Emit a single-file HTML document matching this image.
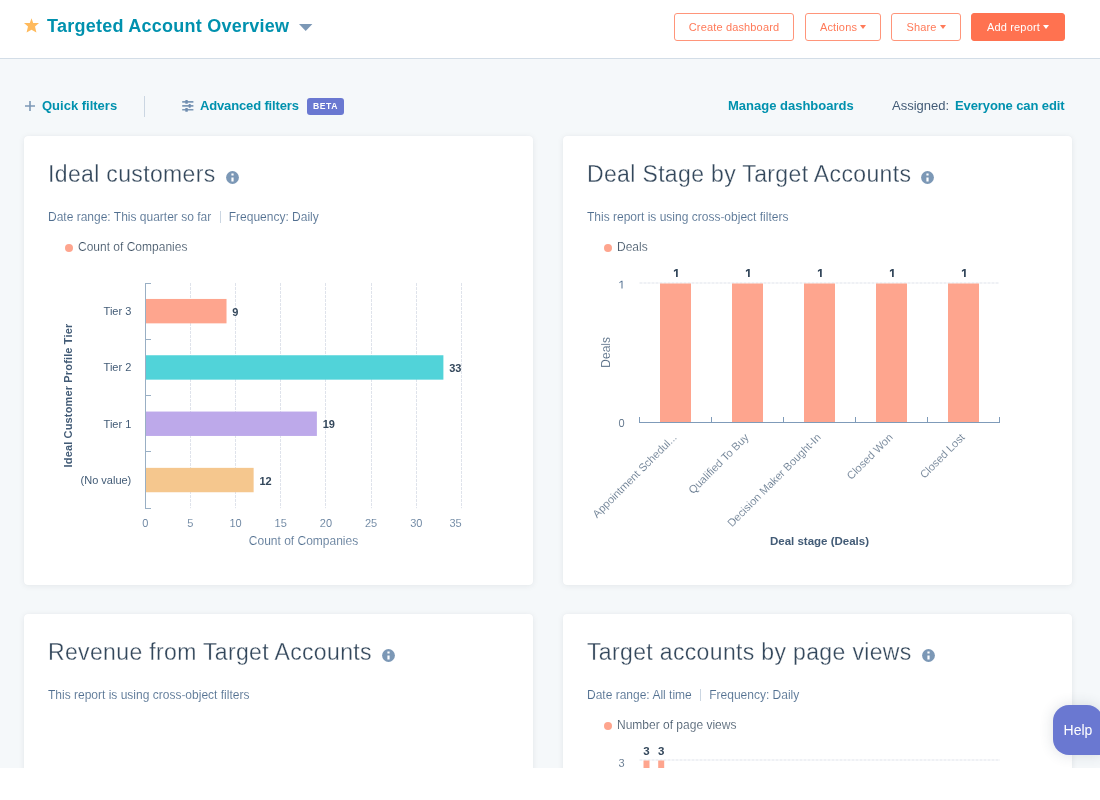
<!DOCTYPE html>
<html><head><meta charset="utf-8">
<style>
*{box-sizing:border-box}
html,body{margin:0;padding:0;width:1100px;height:800px;background:#fff;overflow:hidden;font-family:"Liberation Sans",sans-serif}
#page{will-change:transform;position:absolute;left:0;top:0;width:1100px;height:768px;background:#f5f8fa}
#hdr{position:absolute;left:0;top:0;width:1100px;height:59px;background:#fff;border-bottom:1px solid #d3dde7}
.abs{position:absolute;white-space:nowrap}
.title{left:47px;top:15px;font-size:18px;font-weight:700;color:#0091ae;letter-spacing:0.25px;line-height:22px}
.btn{position:absolute;top:13px;height:28px;border:1px solid #ff957a;border-radius:3px;color:#ff7a59;font-size:11px;line-height:26px;text-align:center;background:#fff;letter-spacing:0.15px}
.btn.fill{background:#ff7250;color:#fff;border-color:#ff7250}
.caret{display:inline-block;width:0;height:0;border-left:3.5px solid transparent;border-right:3.5px solid transparent;border-top:4px solid currentColor;vertical-align:middle;margin-left:3px;margin-top:-2px}
.flt{font-size:13px;font-weight:700;color:#0091ae;line-height:16px}
.card{position:absolute;background:#fff;border-radius:4px;box-shadow:0 1px 6px rgba(30,40,50,0.075),0 0 1px rgba(30,40,50,0.06)}
.ct{position:absolute;left:24px;top:23px;font-size:23px;letter-spacing:0.35px;color:#33475b;-webkit-text-stroke:0.3px #fff;line-height:30px;white-space:nowrap}
.info{display:inline-block;width:13px;height:13px;vertical-align:-2px;margin-left:10px}
.sub{position:absolute;left:24px;top:73px;font-size:12px;color:#516f90;-webkit-text-stroke:0.1px #fff;line-height:16px;white-space:nowrap}
.sep{display:inline-block;width:1px;height:12px;background:#cbd6e2;margin:0 8px 0 8.5px;vertical-align:-2px}
.leg{position:absolute;left:41px;top:103px;font-size:12px;color:#33475b;-webkit-text-stroke:0.2px #fff;line-height:16px;white-space:nowrap}
.dot{display:inline-block;width:8px;height:8px;border-radius:50%;background:#fea58e;margin-right:5px;vertical-align:-1px}
svg text{font-family:"Liberation Sans",sans-serif}
#help{position:absolute;left:1053px;top:705px;width:50px;height:50px;background:#6a78d1;border-radius:16px 16px 0 16px;color:#fff;font-size:14px;line-height:50px;text-align:center;box-shadow:0 0 14px rgba(45,62,80,0.16)}
</style></head>
<body>
<div id="page">
  <div id="hdr">
    <svg class="abs" style="left:24px;top:18px" width="16" height="15" viewBox="0 0 16 15"><path d="M7.5 0.3 L9.2 5.1 L15 5.1 L11 8.6 L12.4 14.6 L7.5 11.8 L2.6 14.6 L4 8.6 L0 5.1 L5.8 5.1 Z" fill="#ffba5c"/></svg>
    <div class="abs title">Targeted Account Overview</div>
    <svg class="abs" style="left:299px;top:24px" width="14" height="8" viewBox="0 0 14 8"><path d="M0 0 L13.4 0 L6.7 7 Z" fill="#7c98b6"/></svg>
    <div class="btn" style="left:674px;width:120px">Create dashboard</div>
    <div class="btn" style="left:805px;width:76px">Actions<span class="caret"></span></div>
    <div class="btn" style="left:891px;width:70px">Share<span class="caret"></span></div>
    <div class="btn fill" style="left:971px;width:94px">Add report<span class="caret"></span></div>
  </div>

  <!-- filter bar -->
  <svg class="abs" style="left:25px;top:101px" width="10" height="10" viewBox="0 0 10 10"><path d="M5 0V10M0 5H10" stroke="#7c98b6" stroke-width="1.6"/></svg>
  <div class="abs flt" style="left:42px;top:98px">Quick filters</div>
  <div class="abs" style="left:144px;top:96px;width:1px;height:21px;background:#cbd6e2"></div>
  <svg class="abs" style="left:182px;top:100px" width="12" height="12" viewBox="0 0 12 12">
    <g stroke="#7c98b6" stroke-width="1.6"><path d="M0.2 1.9H11.4M0.2 5.9H11.4M0.2 9.8H11.4"/></g>
    <g fill="#6f8db0"><rect x="3.3" y="0.1" width="2.5" height="3.7" rx="0.6"/><rect x="6.6" y="4.1" width="2.2" height="3.6" rx="0.6"/><rect x="3.3" y="8" width="2.5" height="3.8" rx="0.6"/></g>
  </svg>
  <div class="abs flt" style="left:200px;top:98px;letter-spacing:-0.15px">Advanced filters</div>
  <div class="abs" style="left:307px;top:98px;width:37px;height:17px;background:#6a78d1;border-radius:3px;color:#fff;font-size:8.6px;font-weight:700;line-height:17px;text-align:center;letter-spacing:0.5px">BETA</div>
  <div class="abs flt" style="left:728px;top:98px">Manage dashboards</div>
  <div class="abs" style="left:892px;top:98px;font-size:13px;color:#425b76;line-height:16px">Assigned:</div>
  <div class="abs flt" style="left:955px;top:98px;letter-spacing:-0.1px">Everyone can edit</div>

  <!-- card 1 -->
  <div class="card" style="left:24px;top:136px;width:509px;height:449px">
    <div class="ct">Ideal customers<svg class="info" viewBox="0 0 13 13"><circle cx="6.5" cy="6.5" r="6.4" fill="#7c98b6"/><rect x="5.4" y="2.5" width="2.2" height="2" fill="#fff"/><rect x="5.4" y="6.5" width="2.2" height="4" fill="#fff"/></svg></div>
    <div class="sub">Date range: This quarter so far<span class="sep"></span>Frequency: Daily</div>
    <div class="leg"><span class="dot"></span>Count of Companies</div>
  </div>

  <!-- card 2 -->
  <div class="card" style="left:563px;top:136px;width:509px;height:449px">
    <div class="ct">Deal Stage by Target Accounts<svg class="info" viewBox="0 0 13 13"><circle cx="6.5" cy="6.5" r="6.4" fill="#7c98b6"/><rect x="5.4" y="2.5" width="2.2" height="2" fill="#fff"/><rect x="5.4" y="6.5" width="2.2" height="4" fill="#fff"/></svg></div>
    <div class="sub">This report is using cross-object filters</div>
    <div class="leg"><span class="dot"></span>Deals</div>
  </div>

  <!-- card 3 -->
  <div class="card" style="left:24px;top:614px;width:509px;height:200px">
    <div class="ct">Revenue from Target Accounts<svg class="info" viewBox="0 0 13 13"><circle cx="6.5" cy="6.5" r="6.4" fill="#7c98b6"/><rect x="5.4" y="2.5" width="2.2" height="2" fill="#fff"/><rect x="5.4" y="6.5" width="2.2" height="4" fill="#fff"/></svg></div>
    <div class="sub">This report is using cross-object filters</div>
  </div>

  <!-- card 4 -->
  <div class="card" style="left:563px;top:614px;width:509px;height:200px">
    <div class="ct">Target accounts by page views<svg class="info" viewBox="0 0 13 13"><circle cx="6.5" cy="6.5" r="6.4" fill="#7c98b6"/><rect x="5.4" y="2.5" width="2.2" height="2" fill="#fff"/><rect x="5.4" y="6.5" width="2.2" height="4" fill="#fff"/></svg></div>
    <div class="sub">Date range: All time<span class="sep"></span>Frequency: Daily</div>
    <div class="leg"><span class="dot"></span>Number of page views</div>
  </div>

  <!-- CHARTS -->
<svg class="abs" style="left:0;top:0" width="1100" height="768" viewBox="0 0 1100 768"><style>.t{stroke:#fff;stroke-width:0.15px}</style>
<line x1="190.5" y1="283" x2="190.5" y2="508.2" stroke="#dfe3eb" stroke-width="1" stroke-dasharray="3,1"/>
<line x1="235.5" y1="283" x2="235.5" y2="508.2" stroke="#dfe3eb" stroke-width="1" stroke-dasharray="3,1"/>
<line x1="280.5" y1="283" x2="280.5" y2="508.2" stroke="#dfe3eb" stroke-width="1" stroke-dasharray="3,1"/>
<line x1="325.5" y1="283" x2="325.5" y2="508.2" stroke="#dfe3eb" stroke-width="1" stroke-dasharray="3,1"/>
<line x1="371.5" y1="283" x2="371.5" y2="508.2" stroke="#dfe3eb" stroke-width="1" stroke-dasharray="3,1"/>
<line x1="416.5" y1="283" x2="416.5" y2="508.2" stroke="#dfe3eb" stroke-width="1" stroke-dasharray="3,1"/>
<line x1="461.5" y1="283" x2="461.5" y2="508.2" stroke="#dfe3eb" stroke-width="1" stroke-dasharray="3,1"/>
<rect x="145.2" y="298.95" width="81.32" height="24.4" fill="#fea58e"/>
<text x="232.3" y="315.8" font-size="11" font-weight="700" fill="#33475b">9</text>
<text x="131.3" y="315.1" font-size="11" fill="#425b76" text-anchor="end">Tier 3</text>
<rect x="145.2" y="355.25" width="298.19" height="24.4" fill="#51d3d9"/>
<text x="449.2" y="372.1" font-size="11" font-weight="700" fill="#33475b">33</text>
<text x="131.3" y="371.4" font-size="11" fill="#425b76" text-anchor="end">Tier 2</text>
<rect x="145.2" y="411.55" width="171.68" height="24.4" fill="#bda9ea"/>
<text x="322.7" y="428.4" font-size="11" font-weight="700" fill="#33475b">19</text>
<text x="131.3" y="427.8" font-size="11" fill="#425b76" text-anchor="end">Tier 1</text>
<rect x="145.2" y="467.85" width="108.43" height="24.4" fill="#f5c78e"/>
<text x="259.4" y="484.6" font-size="11" font-weight="700" fill="#33475b">12</text>
<text x="131.3" y="484.0" font-size="11" fill="#425b76" text-anchor="end">(No value)</text>
<line x1="145.5" y1="283" x2="145.5" y2="508.2" stroke="#99afc4" stroke-width="1"/>
<line x1="145" y1="283.5" x2="151" y2="283.5" stroke="#99afc4" stroke-width="1"/>
<line x1="145" y1="339.5" x2="151" y2="339.5" stroke="#99afc4" stroke-width="1"/>
<line x1="145" y1="395.5" x2="151" y2="395.5" stroke="#99afc4" stroke-width="1"/>
<line x1="145" y1="451.5" x2="151" y2="451.5" stroke="#99afc4" stroke-width="1"/>
<line x1="145" y1="508.5" x2="151" y2="508.5" stroke="#99afc4" stroke-width="1"/>
<text class="t" x="145.2" y="526.5" font-size="11" fill="#516f90" text-anchor="middle">0</text>
<text class="t" x="190.4" y="526.5" font-size="11" fill="#516f90" text-anchor="middle">5</text>
<text class="t" x="235.6" y="526.5" font-size="11" fill="#516f90" text-anchor="middle">10</text>
<text class="t" x="280.7" y="526.5" font-size="11" fill="#516f90" text-anchor="middle">15</text>
<text class="t" x="325.9" y="526.5" font-size="11" fill="#516f90" text-anchor="middle">20</text>
<text class="t" x="371.1" y="526.5" font-size="11" fill="#516f90" text-anchor="middle">25</text>
<text class="t" x="416.3" y="526.5" font-size="11" fill="#516f90" text-anchor="middle">30</text>
<text class="t" x="455.5" y="526.5" font-size="11" fill="#516f90" text-anchor="middle">35</text>
<text class="t" x="303.5" y="544.5" font-size="12" fill="#516f90" text-anchor="middle">Count of Companies</text>
<text transform="translate(72,395.5) rotate(-90)" font-size="11" font-weight="700" fill="#425b76" text-anchor="middle" letter-spacing="0.15">Ideal Customer Profile Tier</text>
<line x1="639.5" y1="283" x2="999.5" y2="283" stroke="#dfe3eb" stroke-width="1" stroke-dasharray="3,1"/>
<rect x="660.00" y="283.5" width="31" height="139.0" fill="#fea58e"/>
<path d="M676.00 269.10H677.75V276.90H676.00V270.85L673.90 271.98L673.90 270.23Z" fill="#33475b"/>
<text class="t" transform="translate(677.5,438) rotate(-45)" font-size="11" fill="#5a6f86" text-anchor="end">Appointment Schedul...</text>
<rect x="732.00" y="283.5" width="31" height="139.0" fill="#fea58e"/>
<path d="M748.00 269.10H749.75V276.90H748.00V270.85L745.90 271.98L745.90 270.23Z" fill="#33475b"/>
<text class="t" transform="translate(749.5,438) rotate(-45)" font-size="11" fill="#5a6f86" text-anchor="end">Qualified To Buy</text>
<rect x="804.00" y="283.5" width="31" height="139.0" fill="#fea58e"/>
<path d="M820.00 269.10H821.75V276.90H820.00V270.85L817.90 271.98L817.90 270.23Z" fill="#33475b"/>
<text class="t" transform="translate(821.5,438) rotate(-45)" font-size="11" fill="#5a6f86" text-anchor="end">Decision Maker Bought-In</text>
<rect x="876.00" y="283.5" width="31" height="139.0" fill="#fea58e"/>
<path d="M892.00 269.10H893.75V276.90H892.00V270.85L889.90 271.98L889.90 270.23Z" fill="#33475b"/>
<text class="t" transform="translate(893.5,438) rotate(-45)" font-size="11" fill="#5a6f86" text-anchor="end">Closed Won</text>
<rect x="948.00" y="283.5" width="31" height="139.0" fill="#fea58e"/>
<path d="M964.00 269.10H965.75V276.90H964.00V270.85L961.90 271.98L961.90 270.23Z" fill="#33475b"/>
<text class="t" transform="translate(965.5,438) rotate(-45)" font-size="11" fill="#5a6f86" text-anchor="end">Closed Lost</text>
<line x1="639.0" y1="422.5" x2="1000.0" y2="422.5" stroke="#7f9bb9" stroke-width="1"/>
<line x1="639.5" y1="417.0" x2="639.5" y2="422.5" stroke="#7f9bb9" stroke-width="1"/>
<line x1="711.5" y1="417.0" x2="711.5" y2="422.5" stroke="#7f9bb9" stroke-width="1"/>
<line x1="783.5" y1="417.0" x2="783.5" y2="422.5" stroke="#7f9bb9" stroke-width="1"/>
<line x1="855.5" y1="417.0" x2="855.5" y2="422.5" stroke="#7f9bb9" stroke-width="1"/>
<line x1="927.5" y1="417.0" x2="927.5" y2="422.5" stroke="#7f9bb9" stroke-width="1"/>
<line x1="999.5" y1="417.0" x2="999.5" y2="422.5" stroke="#7f9bb9" stroke-width="1"/>
<path d="M621.50 280.80H622.50V288.50H621.50V281.80L619.40 283.30L619.40 282.30Z" fill="#516f90"/>
<text class="t" x="621.5" y="427" font-size="11" fill="#425b76" text-anchor="middle">0</text>
<text class="t" transform="translate(610.3,352.3) rotate(-90)" font-size="12" fill="#425b76" text-anchor="middle">Deals</text>
<text x="819.5" y="544.5" font-size="11.5" font-weight="700" fill="#425b76" text-anchor="middle">Deal stage (Deals)</text>
<line x1="639.5" y1="760" x2="1000" y2="760" stroke="#dfe3eb" stroke-width="1" stroke-dasharray="3,1"/>
<rect x="643.5" y="760.5" width="6" height="10" fill="#fea58e"/>
<rect x="658.2" y="760.5" width="6" height="10" fill="#fea58e"/>
<text x="646.5" y="755" font-size="11.5" font-weight="700" fill="#33475b" text-anchor="middle">3</text>
<text x="661.3" y="755" font-size="11.5" font-weight="700" fill="#33475b" text-anchor="middle">3</text>
<text class="t" x="621.5" y="766.5" font-size="11" fill="#425b76" text-anchor="middle">3</text>
</svg>
<!-- /CHARTS -->
</div>
<div style="position:absolute;left:0;top:768px;width:1100px;height:32px;background:#fff"></div>
<div id="help">Help</div>
</body></html>
